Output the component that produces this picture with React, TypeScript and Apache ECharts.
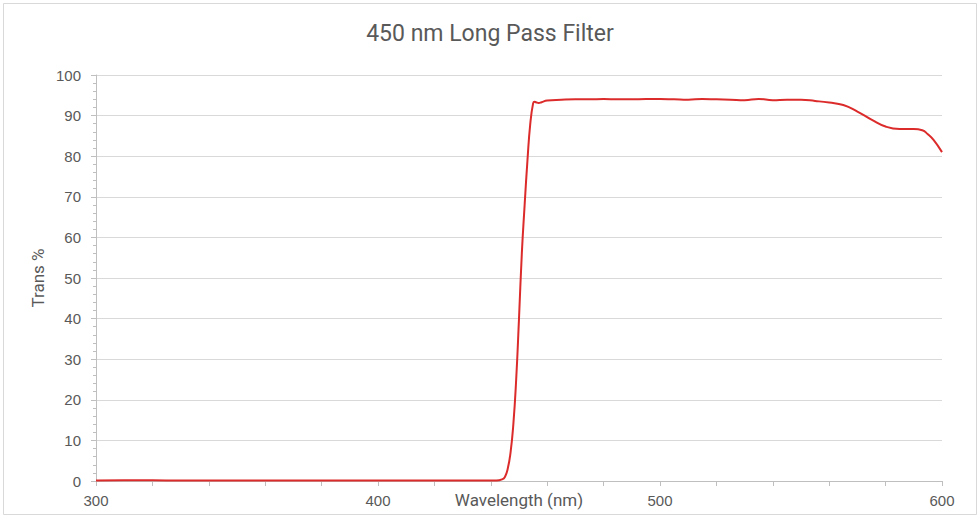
import React, { useEffect, useRef } from "react";
import * as echarts from "echarts";

const TITLE = "450 nm Long Pass Filter";
const X_NAME = "Wavelength (nm)";
const Y_NAME = "Trans %";
const X_LABELS = [300, 400, 500, 600];

const wavelengths = [
  300, 310, 320, 330, 340, 350, 360, 370, 380, 390, 400, 410, 420, 430, 440, 442,
  444, 445, 446, 447, 448, 449, 450, 451, 452, 453, 454, 455, 455.5, 456, 457, 458,
  460, 465, 470, 475, 480, 485, 490, 495, 500, 505, 510, 515, 520, 525, 530, 535,
  540, 545, 550, 555, 560, 565, 570, 575, 580, 585, 590, 593, 595, 597, 600,
];
const transmission = [
  0.1, 0.2, 0.2, 0.1, 0.1, 0.1, 0.1, 0.1, 0.1, 0.1, 0.1, 0.1, 0.1, 0.1, 0.1, 0.1,
  0.4, 1.0, 3, 7, 14, 25, 40, 56, 68, 79, 88, 93.0, 93.4, 93.3, 93.1, 93.3,
  93.7, 93.9, 94.0, 94.0, 94.1, 94.0, 94.0, 94.1, 94.1, 94.0, 93.9, 94.1, 94.0, 93.9, 93.8, 94.1,
  93.8, 93.9, 93.9, 93.6, 93.2, 92.6, 91.0, 89.0, 87.3, 86.7, 86.7, 86.4, 85.4, 84.0, 81.0,
];

export default function App() {
  const ref = useRef<HTMLDivElement>(null);
  useEffect(() => {
    if (!ref.current) return;
    const chart = echarts.init(ref.current, undefined, { renderer: "svg" });
    const font = "Roboto, 'Open Sans', sans-serif";
    const tickFont = "'Liberation Sans', Arial, sans-serif";
    const labelColor = "#595959";
    chart.setOption({
      animation: false,
      backgroundColor: "#ffffff",
      title: {
        text: TITLE,
        left: "center",
        top: 17,
        textStyle: { fontFamily: font, fontSize: 23, fontWeight: "normal", color: labelColor },
      },
      graphic: [
        {
          type: "rect",
          shape: { x: 3.5, y: 3.5, width: 973, height: 511 },
          style: { fill: "none", stroke: "#d9d9d9", lineWidth: 1 },
          silent: true,
        },
      ],
      grid: { left: 96, right: 38, top: 75, bottom: 38, containLabel: false, outerBoundsMode: "none" },
      xAxis: {
        type: "value",
        min: 300,
        max: 600,
        interval: 20,
        name: X_NAME,
        nameLocation: "middle",
        nameGap: 10,
        nameMoveOverlap: false,
        nameTextStyle: { fontFamily: font, fontSize: 17, color: labelColor },
        axisLine: { show: true, lineStyle: { color: "#bfbfbf", width: 1 } },
        axisTick: { show: true, length: 5, lineStyle: { color: "#bfbfbf" } },
        axisLabel: {
          margin: 12,
          fontFamily: tickFont,
          fontSize: 15,
          color: labelColor,
          formatter: (v: number) => (X_LABELS.includes(v) ? String(v) : ""),
        },
        splitLine: { show: false },
      },
      yAxis: {
        type: "value",
        min: 0,
        max: 100,
        interval: 10,
        name: Y_NAME,
        nameLocation: "middle",
        nameGap: 50,
        nameMoveOverlap: false,
        nameTextStyle: { fontFamily: font, fontSize: 17, color: labelColor },
        axisLine: { show: true, lineStyle: { color: "#bfbfbf", width: 1 } },
        axisTick: { show: true, length: 5, lineStyle: { color: "#bfbfbf" } },
        minorTick: { show: true, splitNumber: 5, length: 3, lineStyle: { color: "#bfbfbf" } },
        axisLabel: { margin: 15, fontFamily: tickFont, fontSize: 15, color: labelColor },
        splitLine: { show: true, lineStyle: { color: "#d9d9d9", width: 1 } },
      },
      series: [
        {
          type: "line",
          data: wavelengths.map((w, i) => [w, transmission[i]]),
          showSymbol: false,
          smooth: 0.5,
          lineStyle: { color: "#dc2b2b", width: 2 },
          itemStyle: { color: "#dc2b2b" },
        },
      ],
    });
    return () => chart.dispose();
  }, []);
  return (
    <div
      ref={ref}
      style={{ position: "fixed", left: 0, top: 0, width: 980, height: 519, background: "#fff" }}
    />
  );
}
